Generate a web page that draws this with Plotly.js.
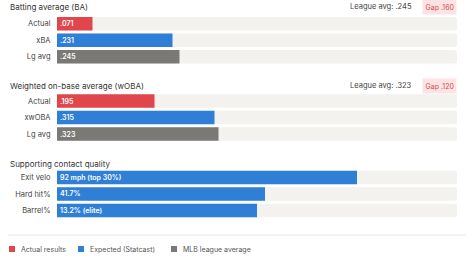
<!DOCTYPE html>
<html>
<head>
<meta charset="utf-8">
<script src="https://cdn.plot.ly/plotly-3.0.1.min.js"></script>
<style>html,body{margin:0;padding:0;background:#fff;}#chart{width:474px;height:266px;}</style>
</head>
<body>
<div id="chart"></div>
<script>
// ---- data ----
const baLabels = ["Actual", "xBA", "Lg avg"];
const baValues = [0.071, 0.231, 0.245];
const baText = [".071", ".231", ".245"];
const baLeague = ".245";
const baGap = ".160";

const wobaLabels = ["Actual", "xwOBA", "Lg avg"];
const wobaValues = [0.195, 0.315, 0.323];
const wobaText = [".195", ".315", ".323"];
const wobaLeague = ".323";
const wobaGap = ".120";

const contactLabels = ["Exit velo", "Hard hit%", "Barrel%"];
const contactScores = [75, 52, 50];
const contactText = ["92 mph (top 30%)", "41.7%", "13.2% (elite)"];

const sectionTitles = ["Batting average (BA)", "Weighted on-base average (wOBA)", "Supporting contact quality"];
const legendNames = ["Actual results", "Expected (Statcast)", "MLB league average"];

const RED = "#e0464b", BLUE = "#2f7fd6", GRAY = "#7b7976", TRACK = "#f4f2ee";
const FONT = "Inter, 'Open Sans', sans-serif";

const rateMax = 0.8, scoreMax = 100;

function track(labels, max, xa, ya) {
  return {type: "bar", orientation: "h", y: labels, x: labels.map(() => max),
    marker: {color: TRACK, cornerradius: 2}, xaxis: xa, yaxis: ya,
    hoverinfo: "skip", showlegend: false};
}
function bars(labels, vals, txt, colors, xa, ya) {
  return {type: "bar", orientation: "h", y: labels, x: vals, text: txt,
    textposition: "inside", insidetextanchor: "start", constraintext: "none",
    textfont: {color: "#fff", size: 7, family: FONT, weight: 600},
    marker: {color: colors, cornerradius: 3}, xaxis: xa, yaxis: ya,
    showlegend: false};
}

const data = [
  track(baLabels, rateMax, "x", "y"),
  bars(baLabels, baValues, baText, [RED, BLUE, GRAY], "x", "y"),
  track(wobaLabels, rateMax, "x2", "y2"),
  bars(wobaLabels, wobaValues, wobaText, [RED, BLUE, GRAY], "x2", "y2"),
  track(contactLabels, scoreMax, "x3", "y3"),
  bars(contactLabels, contactScores, contactText, [BLUE, BLUE, BLUE], "x3", "y3")
];

const xDom = [57/474, 457/474];
function py(p) { return 1 - p/266; }
function xax(max) {
  return {domain: xDom, range: [0, max], showgrid: false, zeroline: false,
    showticklabels: false, fixedrange: true};
}
function yax(top, bottom, anchor) {
  return {domain: [py(bottom), py(top)], autorange: "reversed", anchor: anchor,
    showgrid: false, zeroline: false, ticks: "outside", ticklen: 4,
    tickcolor: "rgba(0,0,0,0)", tickfont: {size: 7.5, color: "#444", family: FONT}};
}

const anns = [];
const titleY = [7, 86, 164];
sectionTitles.forEach((t, i) => anns.push({text: t, xref: "paper", yref: "paper",
  x: 8/474, y: py(titleY[i]), xanchor: "left", yanchor: "middle", showarrow: false,
  font: {size: 8, color: "#333", family: FONT}}));
[[baLeague, baGap, 7], [wobaLeague, wobaGap, 86]].forEach(([lg, gap, yy]) => {
  anns.push({text: "League avg: " + lg, xref: "paper", yref: "paper", x: 414/474, y: py(yy),
    xanchor: "right", yanchor: "middle", showarrow: false,
    font: {size: 7.5, color: "#444", family: FONT}});
  anns.push({text: "Gap " + gap, xref: "paper", yref: "paper", x: 457/474, y: py(yy),
    xanchor: "right", yanchor: "middle", showarrow: false, bgcolor: "#fde4e4",
    borderpad: 2.5, font: {size: 7, color: "#d9464b", family: FONT}});
});

const legendX = [9, 78, 171];
const legendColors = [RED, BLUE, GRAY];
const shapes = [{type: "line", xref: "paper", yref: "paper", x0: 8/474, x1: 466/474,
  y0: py(235), y1: py(235), line: {color: "#e6e6e6", width: 1}}];
legendNames.forEach((n, i) => {
  shapes.push({type: "rect", xref: "paper", yref: "paper", x0: legendX[i]/474, x1: (legendX[i]+6)/474,
    y0: py(252), y1: py(246), fillcolor: legendColors[i], line: {width: 0}});
  anns.push({text: n, xref: "paper", yref: "paper", x: (legendX[i]+10)/474, y: py(249),
    xanchor: "left", yanchor: "middle", showarrow: false,
    font: {size: 7, color: "#555", family: FONT}});
});

const layout = {
  width: 474, height: 266, margin: {l: 0, r: 0, t: 0, b: 0},
  paper_bgcolor: "#fff", plot_bgcolor: "#fff",
  barmode: "overlay", bargap: 0.18, showlegend: false,
  font: {family: FONT},
  xaxis: xax(rateMax), yaxis: yax(15.5, 65, "x"),
  xaxis2: Object.assign(xax(rateMax), {anchor: "y2"}), yaxis2: yax(92.75, 142.25, "x2"),
  xaxis3: Object.assign(xax(scoreMax), {anchor: "y3"}), yaxis3: yax(169.25, 218.75, "x3"),
  annotations: anns, shapes: shapes
};
layout.xaxis.anchor = "y";

Plotly.newPlot("chart", data, layout, {displayModeBar: false, staticPlot: true});
</script>
</body>
</html>
